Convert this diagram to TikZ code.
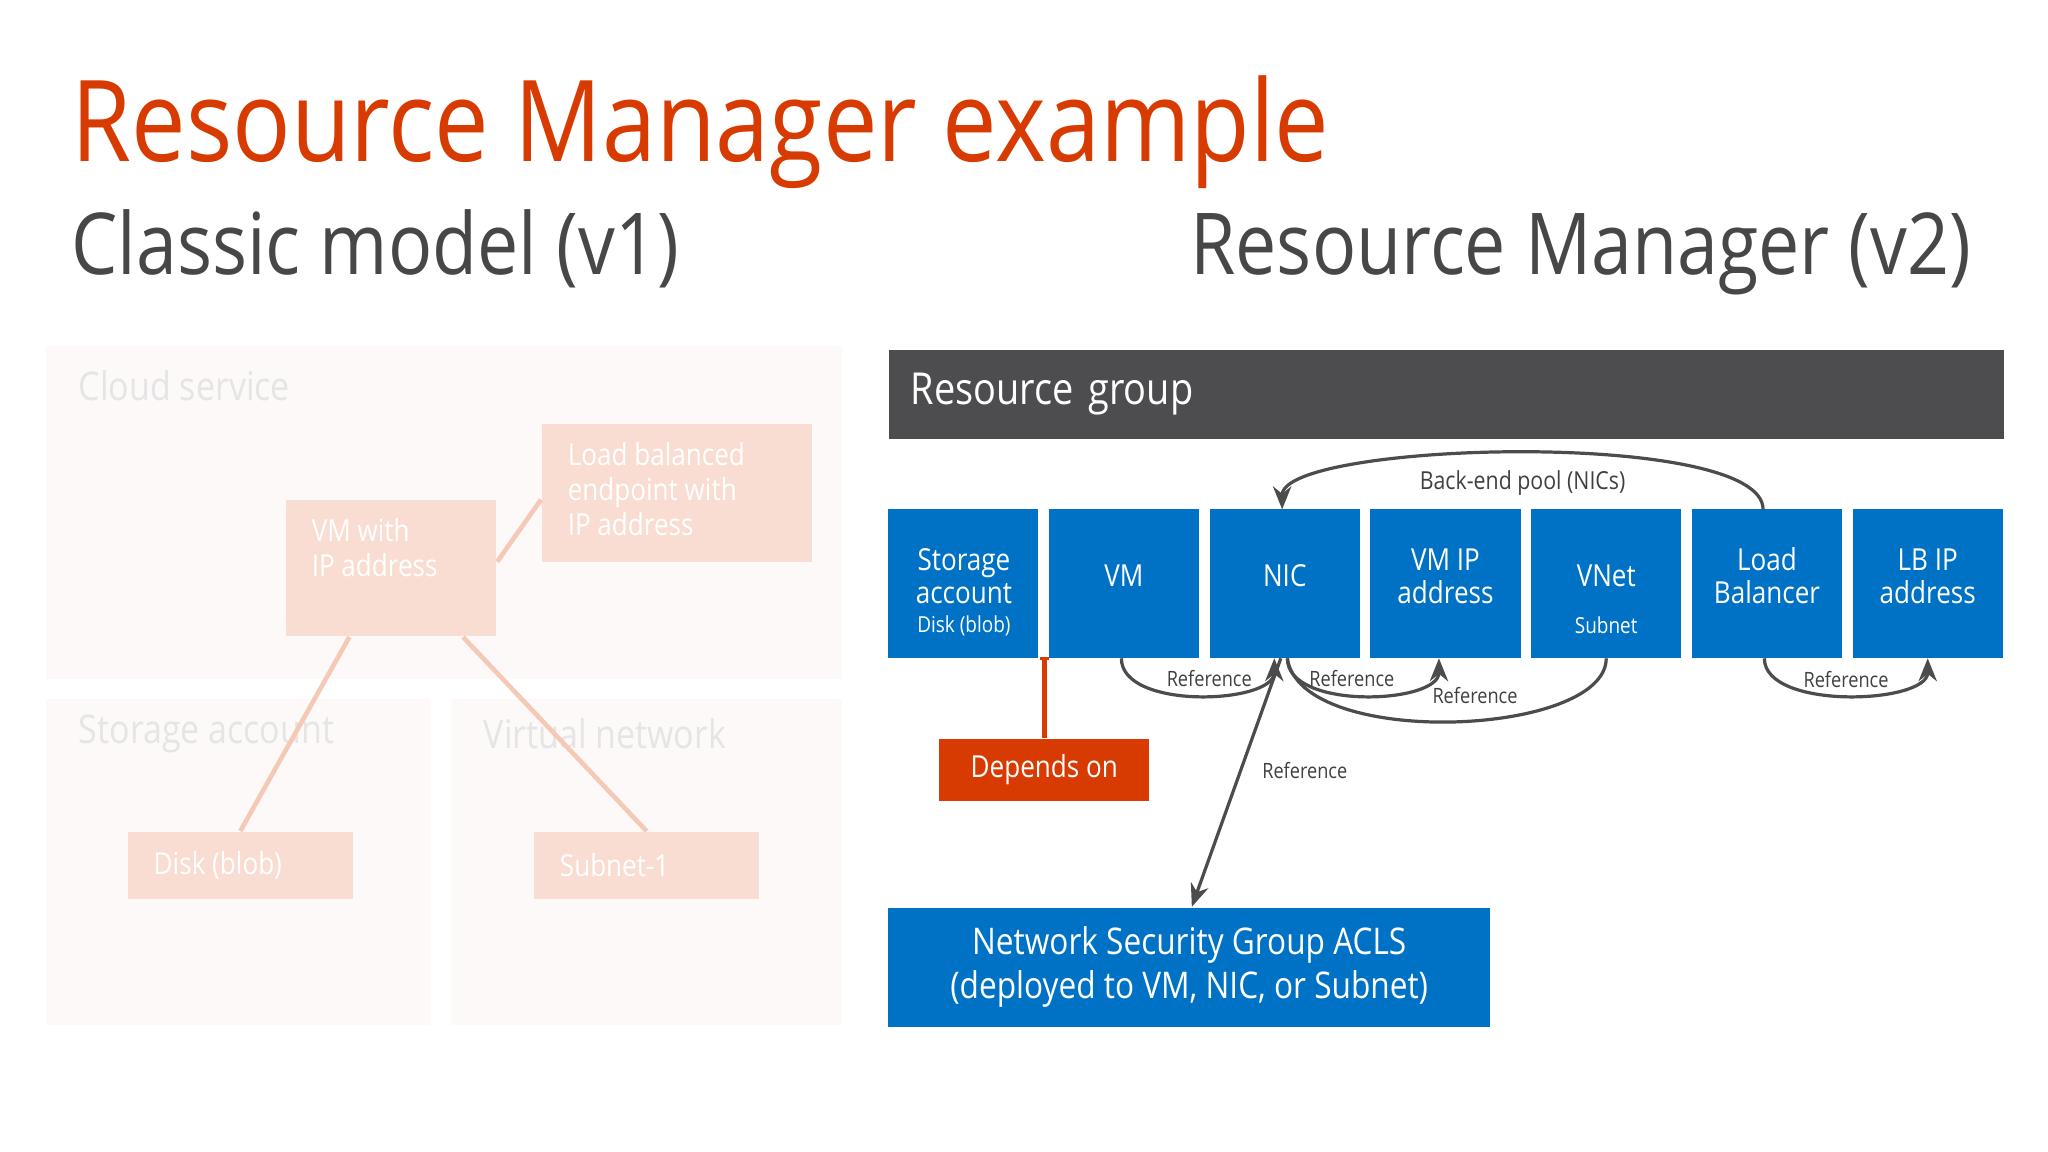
\documentclass[tikz,border=0pt]{standalone}
\usepackage{fontspec}
\setmainfont{Open Sans}[FakeStretch=0.86]
\usetikzlibrary{arrows.meta,positioning}
\definecolor{msorange}{HTML}{D83B01}
\definecolor{msblue}{HTML}{0072C6}
\definecolor{msgray}{HTML}{4D4C4F}
\definecolor{fadepanel}{HTML}{FCF9F8}
\definecolor{fadebox}{HTML}{F9DDD2}
\definecolor{fadeline}{HTML}{F6C9B6}
\begin{document}
\begin{tikzpicture}[x=0.01cm,y=-0.01cm,>={Stealth[length=5pt,width=4pt]},
    res box/.style={fill=msblue,text=white,minimum width=1.15cm,minimum height=1.14cm,
      inner sep=0pt,outer sep=0pt,align=center,font=\fontsize{6.6}{7.2}\selectfont},
    res text/.style={text=white,align=center,inner sep=0pt,font=\fontsize{6.6}{7.2}\selectfont},
    sub text/.style={text=white,inner sep=0pt,font=\fontsize{4.8}{5}\selectfont},
    ref arc/.style={draw=black!70,line width=0.7pt},
    ref label/.style={font=\fontsize{4.6}{5}\selectfont,text=black!75},
    fade panel/.style={fill=fadepanel,draw=none},
    fade box/.style={fill=fadebox,inner sep=0pt},
    fade text/.style={text=white,align=left,inner sep=0pt,font=\fontsize{6.6}{7.6}\selectfont},
    fade title/.style={text=black!10,font=\fontsize{8.6}{10}\selectfont,anchor=west}]
  \useasboundingbox (0,0) rectangle (1568,882);
  % titles
  \node[anchor=base west,text=msorange,font=\fontsize{24.6}{30}\selectfont,inner sep=0pt] (title) at (54,124) {Resource Manager example};
  \node[anchor=base west,text=black!72,font=\fontsize{18.6}{24}\selectfont,inner sep=0pt] (classic) at (54,210) {Classic model (v1)};
  \node[anchor=base east,text=black!72,font=\fontsize{18.6}{24}\selectfont,inner sep=0pt] (armtitle) at (1510,210) {Resource Manager (v2)};
  % classic model (faded)
  \fill[fade panel] (35,265) rectangle (645,520);
  \fill[fade panel] (35,535) rectangle (330,785);
  \fill[fade panel] (345,535) rectangle (645,785);
  \node[fade title] (cloud) at (48,295) {Cloud service};
  \node[fade title] (stor) at (48,562) {Storage account};
  \node[fade title] (vnet1) at (358,562) {Virtual network};
  \node[fade box,minimum width=1.61cm,minimum height=1.04cm] (vmip) at (299.5,435) {};
  \node[fade text,anchor=north west] (vmiptext) at (238,396) {VM with\\IP address};
  \node[fade box,minimum width=2.07cm,minimum height=1.05cm] (lbend) at (518.5,377.5) {};
  \node[fade text,anchor=north west] (lbtext) at (434,338) {Load balanced\\endpoint with\\IP address};
  \node[fade box,minimum width=1.72cm,minimum height=0.51cm] (disk) at (184,662.5) {};
  \node[fade text,anchor=west] (disktext) at (117,662.5) {Disk (blob)};
  \node[fade box,minimum width=1.72cm,minimum height=0.51cm] (subnet1) at (495,662.5) {};
  \node[fade text,anchor=west] (subnettext) at (428,662.5) {Subnet-1};
  \draw[fadeline,line width=1pt] ([yshift=0.05cm]vmip.east) -- ([yshift=-0.05cm]lbend.west);
  \draw[fadeline,line width=1pt] ([xshift=-0.32cm]vmip.south) -- (disk.north);
  \draw[fadeline,line width=1pt] ([xshift=0.55cm]vmip.south) -- (subnet1.north);
  % resource manager
  \node[fill=msgray,text=white,minimum width=8.53cm,minimum height=0.68cm,anchor=north west,
    font=\fontsize{9.6}{10}\selectfont,text width=8.2cm,align=left] (rg) at (680,267) {Resource group};
  \node[res box] (storage) at (737.5,447) {};
  \node[res box,right=0.08cm of storage] (vm) {};
  \node[res box,right=0.08cm of vm] (nic) {};
  \node[res box,right=0.08cm of nic] (vmipaddr) {};
  \node[res box,right=0.08cm of vmipaddr] (vnet) {};
  \node[res box,right=0.08cm of vnet] (lb) {};
  \node[res box,right=0.08cm of lb] (lbip) {};
  \node[res text] at (738,441) {Storage\\account};
  \node[sub text] at (738,479) {Disk (blob)};
  \node[res text] at (vm |- 0,441) {VM};
  \node[res text] at (nic |- 0,441) {NIC};
  \node[res text] at (vmipaddr |- 0,441) {VM IP\\address};
  \node[res text] at (vnet |- 0,441) {VNet};
  \node[sub text] at (vnet |- 0,479) {Subnet};
  \node[res text] at (lb |- 0,441) {Load\\Balancer};
  \node[res text] at (lbip |- 0,441) {LB IP\\address};
  \node[fill=msorange,text=white,minimum width=1.61cm,minimum height=0.47cm,
    font=\fontsize{6.6}{7.4}\selectfont] (depends) at (799.5,589.5) {Depends on};
  \node[fill=msblue,text=white,minimum width=4.61cm,minimum height=0.91cm,align=center,
    font=\fontsize{8}{9.6}\selectfont] (nsg) at (910.5,740.5) {Network Security Group ACLS\\(deployed to VM, NIC, or Subnet)};
  % connectors
  \draw[msorange,line width=1pt] (depends.north) -- (depends.north |- storage.south east) coordinate (dtop);
  \draw[msorange,line width=0.6pt] ([xshift=-1pt]dtop) -- ([xshift=1pt]dtop);
  \draw[ref arc,->] ([xshift=-0.03cm]lb.north) .. controls +(0,-62) and +(0,-52) .. ([xshift=-0.02cm]nic.north)
    node[pos=0.5,below=0pt,ref label,font=\fontsize{5.4}{6}\selectfont] (pool) {Back-end pool (NICs)};
  \draw[ref arc,->] ([xshift=-0.02cm]vm.south) .. controls +(0,40) and +(0,35) .. ([xshift=-0.08cm]nic.south)
    node[pos=0.55,above=-2pt,ref label] {Reference};
  \draw[ref arc,->] ([xshift=0.02cm]nic.south) .. controls +(0,40) and +(0,35) .. ([xshift=-0.05cm]vmipaddr.south)
    node[pos=0.45,above=-2pt,ref label] {Reference};
  \draw[ref arc] ([xshift=0.02cm]nic.south) .. controls +(10,70) and +(0,60) .. (vnet.south)
    node[pos=0.55,above=0pt,ref label] {Reference};
  \draw[ref arc,->] ([xshift=-0.02cm]lb.south) .. controls +(0,40) and +(0,35) .. (lbip.south)
    node[pos=0.5,above=-2pt,ref label] {Reference};
  \draw[ref arc,->] ([xshift=-0.03cm]nic.south) -- ([xshift=0.02cm]nsg.north)
    node[pos=0.45,right=1pt,ref label] {Reference};
\end{tikzpicture}
\end{document}
